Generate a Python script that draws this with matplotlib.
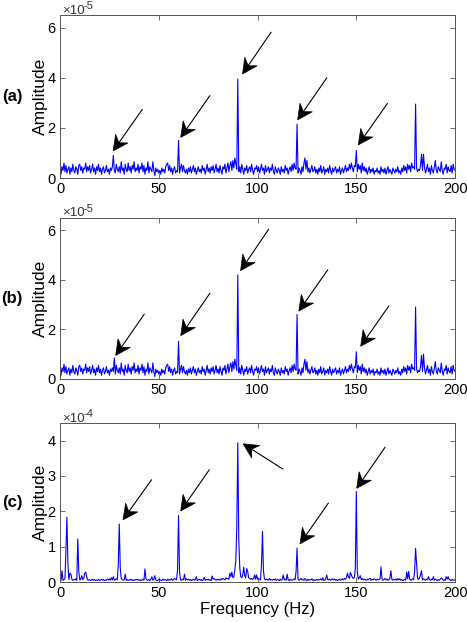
import numpy as np
import matplotlib
matplotlib.use('Agg')
import matplotlib.pyplot as plt
from matplotlib.patches import Polygon
from matplotlib.transforms import IdentityTransform

plt.rcParams['font.family'] = ['Liberation Sans', 'DejaVu Sans']

# frequency axis, 0.5 Hz steps
freq = np.arange(0, 200.5, 0.5)

# (a) and (b) share the same noise floor, amplitude in 1e-5
noise_ab = [
    0.35, 0.15, 0.45, 0.30, 0.60, 0.25, 0.50, 0.20, 0.35, 0.45, 0.15, 0.40, 0.25, 0.55, 0.30, 0.20, 0.45, 0.35, 0.15, 0.50,
    0.55, 0.30, 0.45, 0.20, 0.40, 0.35, 0.60, 0.25, 0.45, 0.30, 0.50, 0.20, 0.35, 0.55, 0.25, 0.40, 0.15, 0.45, 0.30, 0.55,
    0.25, 0.40, 0.15, 0.35, 0.45, 0.20, 0.30, 0.50, 0.25, 0.35, 0.15, 0.40, 0.30, 0.45, 0.30, 0.30, 0.20, 0.55, 0.35, 0.25,
    0.45, 0.20, 0.65, 0.30, 0.40, 0.15, 0.55, 0.35, 0.25, 0.60, 0.30, 0.45, 0.20, 0.50, 0.35, 0.65, 0.25, 0.40, 0.30, 0.55,
    0.20, 0.45, 0.35, 0.60, 0.25, 0.50, 0.15, 0.40, 0.30, 0.65, 0.20, 0.45, 0.35, 0.25, 0.65, 0.30, 0.10, 0.40, 0.25, 0.35,
    0.20, 0.30, 0.15, 0.40, 0.25, 0.35, 0.20, 0.45, 0.55, 0.60, 0.30, 0.50, 0.25, 0.40, 0.15, 0.35, 0.45, 0.20, 0.30, 0.25,
    0.30, 0.20, 0.40, 0.55, 0.25, 0.50, 0.30, 0.20, 0.35, 0.15, 0.40, 0.25, 0.45, 0.20, 0.35, 0.50, 0.25, 0.40, 0.15, 0.30,
    0.45, 0.25, 0.35, 0.20, 0.50, 0.30, 0.40, 0.15, 0.35, 0.55, 0.25, 0.40, 0.20, 0.45, 0.30, 0.50, 0.20, 0.35, 0.55, 0.25,
    0.40, 0.20, 0.50, 0.30, 0.15, 0.45, 0.35, 0.55, 0.20, 0.40, 0.60, 0.25, 0.50, 0.65, 0.30, 0.70, 0.40, 0.80, 0.55, 0.35,
    0.30, 0.25, 0.45, 0.20, 0.55, 0.35, 0.15, 0.40, 0.30, 0.50, 0.20, 0.35, 0.45, 0.25, 0.55, 0.30, 0.15, 0.40, 0.35, 0.50,
    0.25, 0.45, 0.20, 0.35, 0.55, 0.30, 0.40, 0.15, 0.50, 0.25, 0.35, 0.45, 0.20, 0.40, 0.30, 0.55, 0.25, 0.15, 0.45, 0.30,
    0.20, 0.40, 0.30, 0.15, 0.45, 0.25, 0.35, 0.20, 0.50, 0.30, 0.40, 0.15, 0.35, 0.45, 0.25, 0.55, 0.30, 0.60, 0.40, 0.35,
    0.30, 0.20, 0.40, 0.30, 0.15, 0.45, 0.25, 0.60, 0.80, 0.35, 0.70, 0.25, 0.40, 0.20, 0.35, 0.50, 0.25, 0.30, 0.45, 0.20,
    0.35, 0.15, 0.40, 0.25, 0.50, 0.20, 0.30, 0.45, 0.15, 0.35, 0.25, 0.40, 0.20, 0.50, 0.30, 0.15, 0.40, 0.25, 0.35, 0.45,
    0.20, 0.35, 0.25, 0.45, 0.15, 0.30, 0.40, 0.20, 0.35, 0.50, 0.25, 0.40, 0.30, 0.55, 0.35, 0.60, 0.40, 0.25, 0.50, 0.45,
    0.30, 0.25, 0.55, 0.35, 0.50, 0.20, 0.60, 0.30, 0.45, 0.25, 0.40, 0.15, 0.30, 0.45, 0.20, 0.35, 0.25, 0.40, 0.15, 0.30,
    0.25, 0.40, 0.20, 0.30, 0.15, 0.45, 0.25, 0.35, 0.20, 0.40, 0.15, 0.30, 0.45, 0.20, 0.35, 0.25, 0.15, 0.40, 0.30, 0.20,
    0.35, 0.25, 0.45, 0.20, 0.30, 0.15, 0.40, 0.25, 0.50, 0.30, 0.45, 0.20, 0.55, 0.35, 0.50, 0.25, 0.60, 0.40, 0.45, 0.35,
    0.30, 0.40, 0.25, 0.35, 0.30, 0.50, 0.30, 0.30, 0.30, 0.45, 0.20, 0.35, 0.55, 0.25, 0.40, 0.15, 0.50, 0.30, 0.20, 0.45,
    0.70, 0.30, 0.20, 0.45, 0.35, 0.25, 0.65, 0.30, 0.15, 0.40, 0.35, 0.55, 0.20, 0.45, 0.30, 0.25, 0.50, 0.20, 0.55, 0.35,
    0.30,
]

peak_f_a = [27.0, 60.0, 90.0, 120.0, 150.0, 180.0, 183.0, 184.0]
peak_v_a = [0.90, 1.50, 3.95, 2.15, 1.10, 2.95, 0.95, 0.95]

peak_f_b = [27.5, 60.0, 90.0, 120.0, 150.0, 180.0, 183.0, 184.0]
peak_v_b = [0.85, 1.52, 4.20, 2.60, 1.10, 2.90, 0.95, 1.00]

# (c) floor, amplitude in 1e-4
base_c = [
    .06, .04, .08, .05, .07, .09, .06, .08, .05, .07, .04, .06, .08, .05, .07, .06, .09, .05, .07, .04,
    .06, .08, .05, .07, .10, .06, .12, .08, .06, .05, .07, .04, .06, .08, .05, .07, .04, .06, .05, .07,
    .04, .06, .08, .05, .07, .04, .06, .05, .08, .06, .09, .05, .07, .06, .08, .05, .07, .09, .06, .05,
    .08, .06, .10, .07, .05, .06, .08, .05, .07, .04, .06, .08, .05, .07, .04, .06, .05, .08, .06, .07,
    .05, .07, .04, .06, .08, .05, .07, .09, .06, .05, .07, .04, .08, .06, .05, .07, .09, .06, .04, .05,
    .07, .05, .06, .04, .08, .05, .07, .06, .04, .08, .05, .07, .06, .09, .05, .07, .10, .08, .06, .09,
    .07, .09, .06, .05, .08, .06, .07, .05, .09, .06, .08, .05, .07, .04, .06, .08, .05, .07, .06, .04,
    .06, .08, .05, .07, .04, .06, .09, .05, .07, .06, .08, .05, .07, .04, .06, .08, .10, .07, .05, .08,
    .06, .08, .05, .09, .07, .10, .08, .06, .12, .09, .10, .08, .12, .15, .10, .12, .15, .18, .20, .25,
    .30, .20, .18, .15, .12, .20, .15, .18, .12, .20, .15, .12, .10, .08, .10, .07, .09, .12, .08, .10,
    .08, .10, .07, .06, .12, .08, .07, .09, .06, .08, .07, .05, .08, .06, .07, .05, .08, .06, .09, .05,
    .07, .06, .04, .08, .05, .07, .09, .06, .08, .05, .07, .06, .04, .08, .06, .05, .07, .09, .06, .08,
    .06, .08, .05, .07, .10, .06, .08, .05, .07, .06, .04, .08, .05, .07, .06, .09, .05, .07, .04, .06,
    .08, .05, .07, .06, .09, .05, .07, .04, .06, .08, .05, .07, .06, .08, .05, .07, .09, .06, .08, .05,
    .07, .04, .06, .08, .05, .07, .09, .06, .10, .08, .12, .09, .15, .10, .12, .09, .13, .10, .12, .15,
    .12, .10, .08, .12, .09, .07, .10, .06, .08, .07, .05, .08, .06, .09, .07, .05, .08, .06, .09, .07,
    .05, .08, .06, .07, .09, .06, .08, .05, .07, .10, .06, .08, .05, .07, .09, .06, .08, .05, .07, .06,
    .08, .05, .07, .06, .09, .05, .07, .04, .06, .08, .05, .07, .09, .06, .08, .05, .07, .09, .06, .10,
    .12, .08, .10, .07, .12, .09, .08, .06, .09, .07, .05, .08, .06, .09, .07, .05, .08, .06, .07, .05,
    .08, .06, .04, .07, .05, .08, .06, .09, .05, .07, .04, .06, .08, .05, .07, .06, .04, .07, .05, .06,
    .05,
]

peak_f_c = [1.0, 3.0, 3.5, 4.0, 5.0, 5.5, 9.0, 9.5, 11.0, 12.5, 13.0, 13.5, 26.0, 27.0,
            29.5, 30.0, 30.5, 33.0, 43.0, 46.5, 48.0, 59.5, 60.0, 60.5, 63.0, 69.0, 73.0, 77.0,
            86.0, 87.0, 88.5, 89.0, 89.5, 90.0, 90.5, 91.0, 93.0, 94.5, 95.0, 98.5, 99.5,
            102.0, 102.5, 103.0, 106.0, 113.0, 115.0, 119.5, 120.0, 124.0, 133.0, 135.0,
            145.5, 147.0, 147.5, 149.5, 150.0, 150.5, 152.0, 157.0, 162.5, 167.5, 171.0,
            175.5, 176.5, 179.5, 180.0, 180.5, 182.5, 183.0, 186.5, 189.0, 193.0, 195.5, 196.5]
peak_v_c = [0.32, 0.90, 1.83, 0.50, 0.25, 0.22, 1.22, 0.30, 0.18, 0.25, 0.28, 0.15, 0.12, 0.15,
            0.50, 1.64, 0.40, 0.22, 0.37, 0.15, 0.18, 0.35, 1.88, 0.30, 0.22, 0.15, 0.13, 0.17,
            0.25, 0.28, 0.35, 0.60, 1.60, 3.94, 1.20, 0.40, 0.42, 0.38, 0.30, 0.20, 0.20,
            0.50, 1.43, 0.30, 0.10, 0.20, 0.22, 0.30, 0.96, 0.10, 0.12, 0.20,
            0.25, 0.27, 0.20, 0.40, 2.56, 0.30, 0.18, 0.10, 0.43, 0.32, 0.10,
            0.28, 0.30, 0.30, 0.95, 0.50, 0.20, 0.32, 0.15, 0.15, 0.12, 0.15, 0.15]

# arrows: (tail x, tail y, tip x, tip y)
arrows_a = [(41.6, 2.73, 26.9, 1.08), (75.8, 3.28, 61.1, 1.62), (106.8, 5.81, 92.4, 4.15),
            (135.0, 3.99, 120.3, 2.32), (165.7, 2.97, 151.0, 1.32)]
arrows_b = [(42.6, 2.61, 28.2, 0.95), (75.8, 3.45, 61.1, 1.75), (105.6, 6.04, 91.4, 4.37),
            (135.5, 4.40, 120.9, 2.74), (166.4, 2.94, 152.2, 1.32)]
arrows_c = [(46.3, 2.89, 31.9, 1.76), (75.5, 3.17, 61.1, 2.01), (112.7, 3.20, 92.7, 3.91),
            (135.8, 2.23, 121.5, 1.08), (164.5, 3.81, 150.2, 2.65)]


def build(base, pf, pv):
    y = np.array(base, dtype=float)
    for f, v in zip(pf, pv):
        y[int(round(f * 2))] = v
    return y


def matlab_arrow(ax, tail, tip, hl=15.0, hw=7.5, notch=10.0):
    # arrow with notched head, drawn in pixel space
    t = ax.transData.transform(tail)
    p = ax.transData.transform(tip)
    u = (p - t) / np.hypot(*(p - t))
    n = np.array([-u[1], u[0]])
    back = p - hl * u
    nb = p - notch * u
    head = [p, back + hw * n, nb, back - hw * n]
    ax.add_patch(Polygon(head, closed=True, facecolor='black', edgecolor='black',
                         lw=0.5, transform=IdentityTransform(), clip_on=False))
    ax.plot([t[0], nb[0]], [t[1], nb[1]], color='black', lw=0.8,
            transform=IdentityTransform(), clip_on=False)


y_a = build(noise_ab, peak_f_a, peak_v_a)
y_b = build(noise_ab, peak_f_b, peak_v_b)
y_c = build(base_c, peak_f_c, peak_v_c)

fig = plt.figure(figsize=(4.67, 6.22), dpi=100)

panels = [
    ('(a)', y_a, arrows_a, 6.5, [0, 2, 4, 6], '-5', [0.1285, 0.7138, 0.846, 0.262]),
    ('(b)', y_b, arrows_b, 6.5, [0, 2, 4, 6], '-5', [0.1285, 0.3907, 0.846, 0.259]),
    ('(c)', y_c, arrows_c, 4.5, [0, 1, 2, 3, 4], '-4', [0.1285, 0.0643, 0.846, 0.2557]),
]

for label, y, arrows, ymax, yt, expo, rect in panels:
    ax = fig.add_axes(rect)
    ax.plot(freq, y, color='#0000ff', lw=0.8)
    ax.set_xlim(0, 200)
    ax.set_ylim(0, ymax)
    ax.set_xticks([0, 50, 100, 150, 200])
    ax.set_yticks(yt)
    ax.tick_params(direction='in', top=True, right=True, labelsize=10.5,
                   length=3.5, width=0.6, color='#555555', pad=3)
    for s in ax.spines.values():
        s.set_color('#555555')
        s.set_linewidth(0.7)
    ax.set_ylabel('Amplitude', fontsize=12.5, labelpad=0)
    ax.text(-0.094, 0.5, label, transform=ax.transAxes, fontsize=12,
            fontweight='bold', ha='right', va='center')
    # MATLAB style exponent above the y axis
    ax.annotate('\u00d710', xy=(0, 1), xycoords='axes fraction', xytext=(1.5, 1),
                textcoords='offset points', fontsize=9.5, ha='left', va='baseline',
                color='#333333')
    ax.annotate(expo, xy=(0, 1), xycoords='axes fraction', xytext=(17, 4.3),
                textcoords='offset points', fontsize=8, ha='left', va='baseline',
                color='#333333')
    for tx, ty, hx, hy in arrows:
        matlab_arrow(ax, (tx, ty), (hx, hy))
    if label == '(c)':
        ax.set_xlabel('Frequency (Hz)', fontsize=12, labelpad=1)

fig.savefig('out.png', dpi=100)
